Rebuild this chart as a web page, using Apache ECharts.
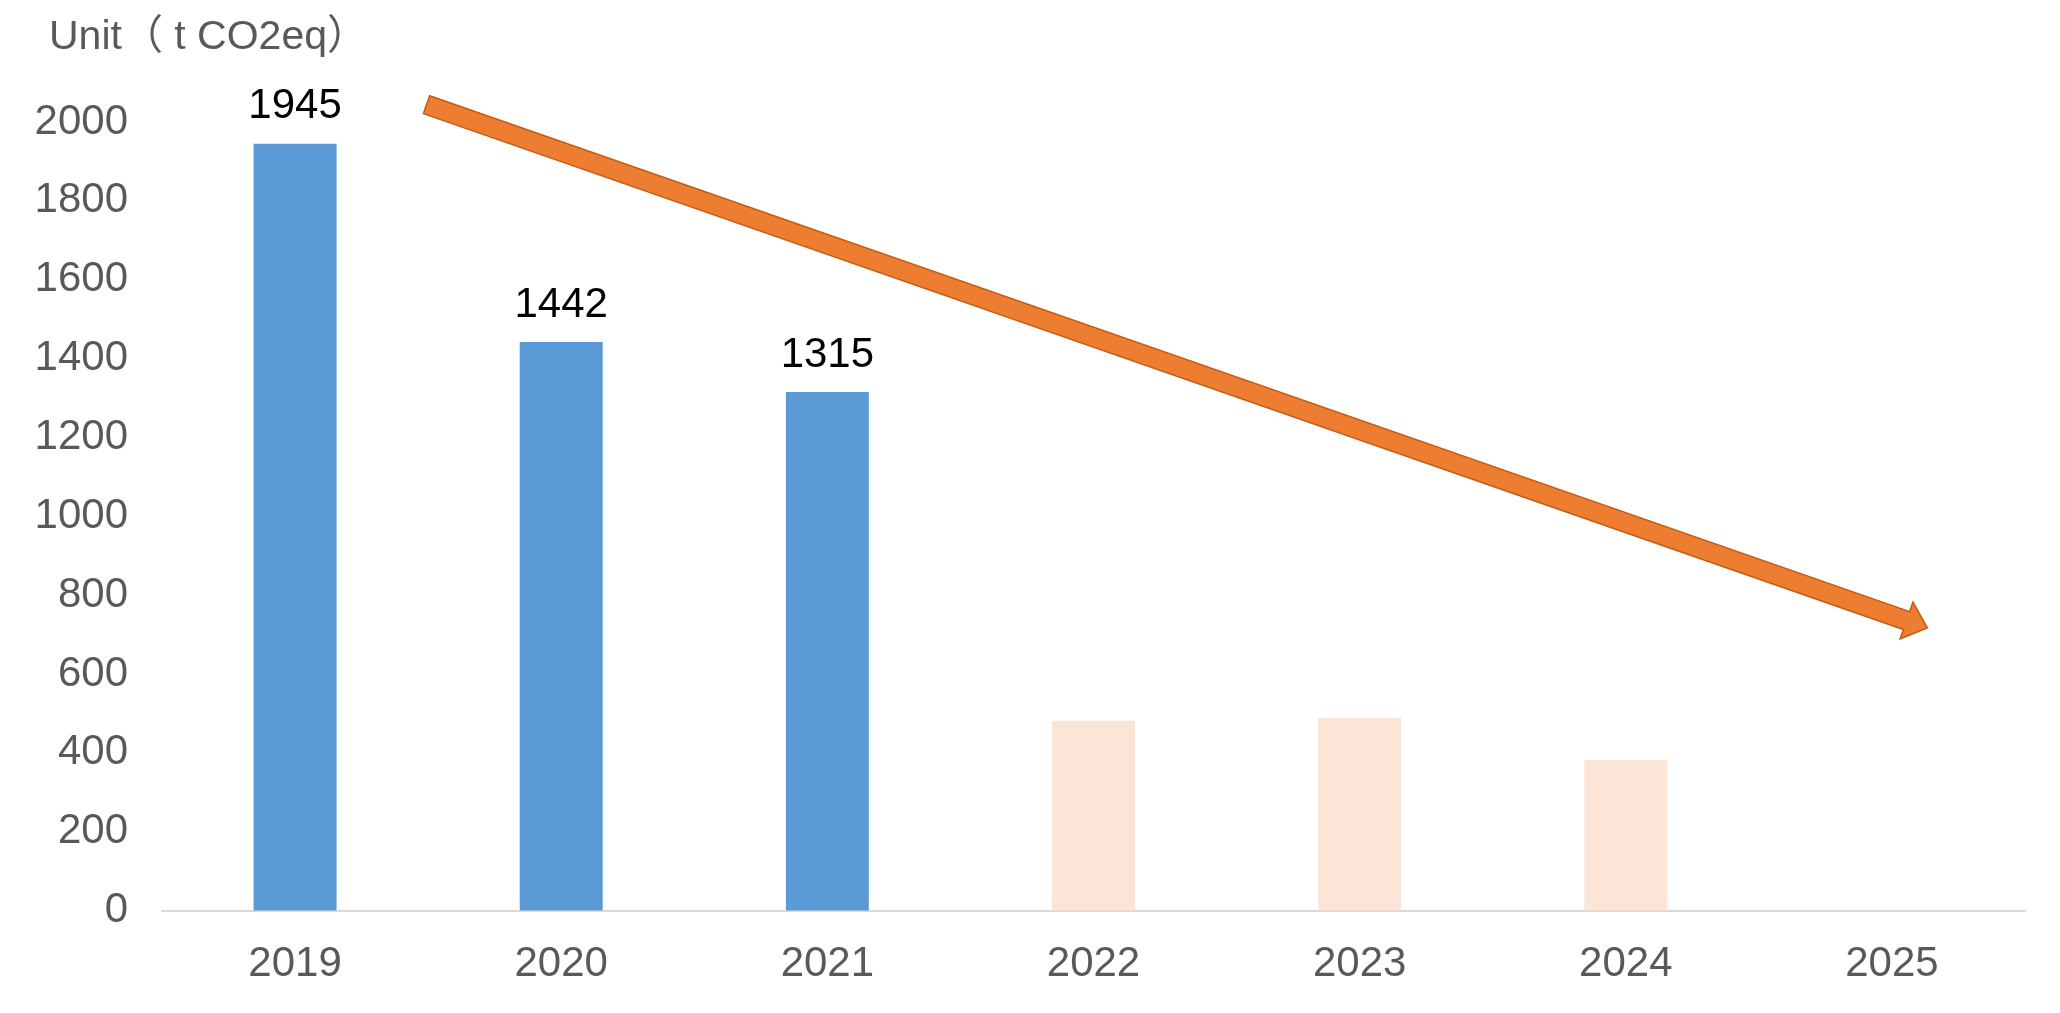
<!DOCTYPE html>
<html>
<head>
<meta charset="utf-8">
<script src="https://cdn.jsdelivr.net/npm/echarts@6/dist/echarts.min.js"></script>
<style>
html,body{margin:0;padding:0;background:#fff;}
#chart{width:2060px;height:1013px;}
</style>
</head>
<body>
<div id="chart"></div>
<script>
// ---- data ----
const categories = ['2019', '2020', '2021', '2022', '2023', '2024', '2025'];
const actualValues = [1945, 1442, 1315, null, null, null, null];
const projectedValues = [null, null, null, 481, 488, 382, null];
const yMin = 0, yMax = 2000, yInterval = 200;
const unitLabel = 'Unit（ t CO2eq）';
// trend arrow annotation, in data units: [category index, value]
const trendFrom = [0.494, 2044];
const trendTo = [6.133, 717];

const FONT = "'Liberation Sans', Arial, 'Noto Sans CJK SC', sans-serif";
const chart = echarts.init(document.getElementById('chart'));

chart.setOption({
  animation: false,
  backgroundColor: '#ffffff',
  title: {
    text: unitLabel,
    left: 44,
    top: 12,
    textStyle: { fontFamily: FONT, fontSize: 41, fontWeight: 'normal', color: '#595959' }
  },
  grid: { left: 162, right: 35, top: 122, bottom: 102.5, containLabel: false },
  xAxis: {
    type: 'category',
    data: categories,
    axisLine: { show: true, lineStyle: { color: '#D9D9D9', width: 2 } },
    axisTick: { show: false },
    axisLabel: { fontFamily: FONT, fontSize: 42, color: '#595959', margin: 33 }
  },
  yAxis: {
    type: 'value',
    min: yMin, max: yMax, interval: yInterval,
    axisLine: { show: false },
    axisTick: { show: false },
    splitLine: { show: false },
    axisLabel: {
      fontFamily: FONT, fontSize: 42, color: '#595959', margin: 34,
      formatter: v => String(v)
    }
  },
  series: [
    {
      type: 'bar',
      name: 'actual',
      stack: 'total',
      data: actualValues,
      barWidth: 83,
      itemStyle: { color: '#5B9BD5' },
      label: {
        show: true, position: 'top', distance: 16,
        fontFamily: FONT, fontSize: 42, color: '#000000'
      }
    },
    {
      type: 'bar',
      name: 'projected',
      stack: 'total',
      data: projectedValues,
      barWidth: 83,
      itemStyle: { color: '#FBE5D6' }
    }
  ]
});

function drawArrow() {
  const c0 = chart.convertToPixel({ xAxisIndex: 0 }, categories[0]);
  const c1 = chart.convertToPixel({ xAxisIndex: 0 }, categories[1]);
  const band = c1 - c0;
  const px = i => c0 + i * band;
  const py = v => chart.convertToPixel({ yAxisIndex: 0 }, v);
  const sx = px(trendFrom[0]), sy = py(trendFrom[1]);
  const tx = px(trendTo[0]), ty = py(trendTo[1]);
  const dx = tx - sx, dy = ty - sy;
  const len = Math.sqrt(dx * dx + dy * dy);
  const ux = dx / len, uy = dy / len;
  const nx = -uy, ny = ux;
  const hw = 9.5, hh = 19.5, hl = 22;
  const bx = tx - ux * hl, by = ty - uy * hl;
  const pts = [
    [sx + nx * hw, sy + ny * hw],
    [bx + nx * hw, by + ny * hw],
    [bx + nx * hh, by + ny * hh],
    [tx, ty],
    [bx - nx * hh, by - ny * hh],
    [bx - nx * hw, by - ny * hw],
    [sx - nx * hw, sy - ny * hw]
  ];
  chart.setOption({
    graphic: [{
      type: 'polygon',
      z: 100,
      shape: { points: pts },
      style: { fill: '#ED7D31', stroke: '#C55A11', lineWidth: 1.5 }
    }]
  });
}
drawArrow();
</script>
</body>
</html>
